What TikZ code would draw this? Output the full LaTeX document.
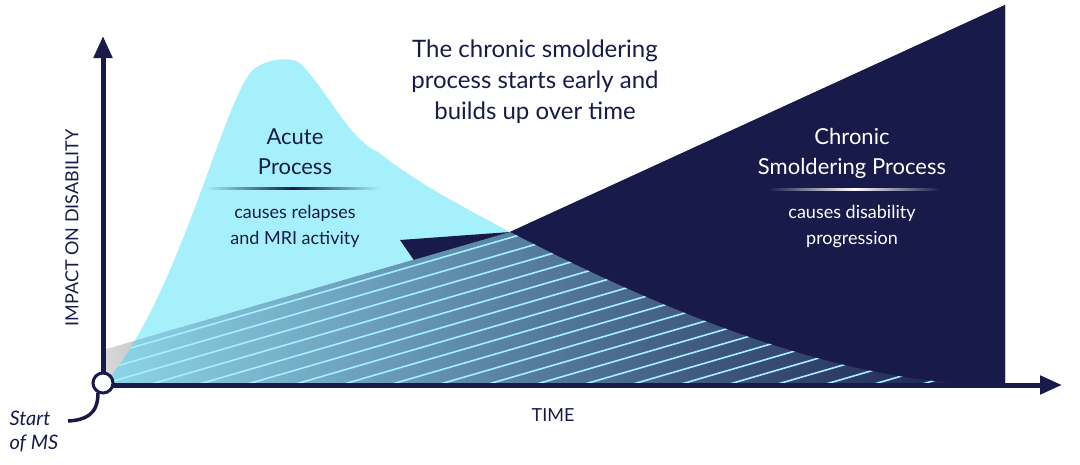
\documentclass[tikz,border=0pt]{standalone}
\usepackage{fontspec}
\setmainfont{Lato}
\usetikzlibrary{arrows.meta}
\definecolor{navy}{HTML}{181B4A}
\definecolor{cyanl}{HTML}{A6F0FC}
\definecolor{hatchl}{HTML}{8ED6EA}
\begin{document}
\begin{tikzpicture}[x=1pt,y=-1pt,
  ttl/.style={font=\fontsize{24}{31}\selectfont,text=navy,align=center},
  lbl/.style={font=\fontsize{22}{30}\selectfont,align=center},
  sub/.style={font=\fontsize{18}{26}\selectfont,align=center},
  ax/.style={line width=5pt,draw=navy,-{Triangle[length=22pt,width=18pt]}}]
\useasboundingbox (0,0) rectangle (1080,464);
% acute region
\def\acute{(103,385) .. controls (180,300) and (225,90) .. (255,68) .. controls (270,58) and (295,56) .. (302,65) .. controls (330,95) and (350,140) .. (378,152) .. controls (420,185) and (460,205) .. (510,232) .. controls (700,330) and (850,380) .. (985,385) -- cycle}
\def\dark{(103,385) -- (103,350) -- (510,232) -- (1005,5) -- (1005,385) -- cycle}
\fill[cyanl] \acute;
\shade[left color=gray!30,right color=navy,middle color=navy] \dark;
\fill[navy] (400,240) -- (510,232) -- (1005,5) -- (1005,385) -- (500,385) -- cycle;
\begin{scope}
\clip \dark;
\clip \acute;
\shade[left color=hatchl,right color=navy] (103,200) rectangle (1000,390);
\foreach \k in {0,...,40}{
  \draw[cyanl,line width=1.6pt] (103,{230+\k*14}) -- (1005,{-32+\k*14});
}
\end{scope}
% axes
\draw[ax] (103,385) -- (103,36);
\draw[ax] (103,385) -- (1062,385);
\draw[navy,line width=3.5pt] (98,393) .. controls (98,415) and (85,420) .. (68,421);
\node[circle,draw=navy,fill=white,line width=3pt,minimum size=20pt,inner sep=0pt] (o) at (103,383) {};
\node[font=\itshape\fontsize{20}{24}\selectfont,text=navy,align=left,anchor=west] (st) at (6,432) {Start\\of MS};
% texts
\node[ttl] (t) at (535,82) {The chronic smoldering\\process starts early and\\builds up over time};
\node[lbl,text=navy] (ap) at (295,152) {Acute\\Process};
\shade[left color=cyanl,right color=cyanl,middle color=navy] (205,187) rectangle (380,189.5);
\node[sub,text=navy] (ac) at (295,226) {causes relapses\\and MRI activity};
\node[lbl,text=white] (cp) at (852,153) {Chronic\\Smoldering Process};
\shade[left color=navy,right color=navy,middle color=white] (768,188) rectangle (940,190.5);
\node[sub,text=white] (cc) at (852,227) {causes disability\\progression};
\node[font=\fontsize{18}{22}\selectfont,text=navy,rotate=90] (y) at (72,228) {IMPACT ON DISABILITY};
\node[font=\fontsize{18}{22}\selectfont,text=navy] (x) at (553,415) {TIME};
\end{tikzpicture}
\end{document}
